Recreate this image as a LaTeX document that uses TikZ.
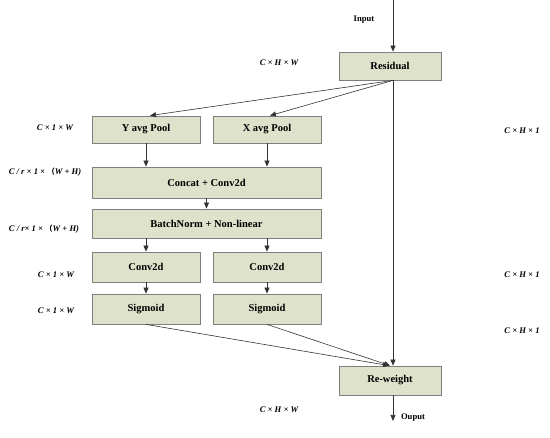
\documentclass[tikz,border=0pt]{standalone}
\usepackage{fontspec}
\setmainfont{Liberation Serif}
\newfontfamily\cjkfont{Noto Sans CJK SC}
\usetikzlibrary{arrows.meta}
\definecolor{boxfill}{HTML}{DFE2CB}
\definecolor{boxline}{HTML}{7F7F7F}
\tikzset{
  blk/.style={draw=boxline, fill=boxfill, line width=0.8pt, minimum height=28pt, inner sep=0pt, font=\bfseries\fontsize{10.5}{12}\selectfont},
  dimlbl/.style={font=\bfseries\itshape\fontsize{8.6}{10}\selectfont, inner sep=0pt},
  plainlbl/.style={font=\bfseries\fontsize{8.6}{10}\selectfont, inner sep=0pt},
  conn/.style={draw=black!80, line width=0.6pt, -{Triangle[length=6pt,width=5pt]}},
  flow/.style={draw=black!75, line width=0.6pt}
}
\begin{document}
\begin{tikzpicture}[x=1pt,y=-1pt]
\useasboundingbox (0,0) rectangle (550,438);
% boxes
\node[blk, minimum width=102pt, minimum height=28pt] (res) at (390,66) {Residual};
\node[blk, minimum width=108pt, minimum height=27pt] (ypool) at (146,129.5) {Y avg Pool};
\node[blk, minimum width=108pt, minimum height=27pt] (xpool) at (267,129.5) {X avg Pool};
\node[blk, minimum width=229pt, minimum height=31pt] (cat) at (206.5,182.5) {Concat + Conv2d};
\node[blk, minimum width=229pt, minimum height=29pt] (bn) at (206.5,223.5) {BatchNorm + Non-linear};
\node[blk, minimum width=108pt, minimum height=30pt] (cl) at (146,267) {Conv2d};
\node[blk, minimum width=108pt, minimum height=30pt] (cr) at (267,267) {Conv2d};
\node[blk, minimum width=108pt, minimum height=30pt] (sl) at (146,309) {Sigmoid};
\node[blk, minimum width=108pt, minimum height=30pt] (sr) at (267,309) {Sigmoid};
\node[blk, minimum width=102pt, minimum height=29pt] (rw) at (390,380.5) {Re-weight};
% coordinates
\coordinate (top) at (393,0);
\coordinate (out) at (393,421);
% main line
\draw[conn] (top) -- (res.north -| top);
\draw[conn] (res.south -| top) -- (rw.north -| top);
\draw[conn] (rw.south -| top) -- (out);
% residual to pools
\draw[conn] (res.south -| top) -- ([xshift=4pt]ypool.north);
\draw[conn] (res.south -| top) -- ([xshift=3pt]xpool.north);
\draw[conn] (ypool.south) -- (ypool.south |- cat.north);
\draw[conn] (xpool.south) -- (xpool.south |- cat.north);
\draw[conn] (cat.south) -- (bn.north);
\draw[conn] (bn.south -| cl) -- (cl.north);
\draw[conn] (bn.south -| cr) -- (cr.north);
\draw[conn] (cl.south) -- (sl.north);
\draw[conn] (cr.south) -- (sr.north);
\draw[conn] (sl.south) -- ([xshift=-4pt]rw.north -| top);
\draw[conn] (sr.south) -- ([xshift=-3pt]rw.north -| top);
% labels
\node[plainlbl] (lin) at (364,20) {Input};
\node[plainlbl] (lout) at (413,418) {Ouput};
\node[dimlbl] (d1) at (279,63) {C × H × W};
\node[dimlbl] (d2) at (279,410) {C × H × W};
\node[dimlbl] (d3) at (55,128) {C × 1 × W};
\node[dimlbl] (d4) at (45,172) {C / r × 1 × {\upshape\cjkfont\fontsize{7.5}{9}\selectfont（}W + H)};
\node[dimlbl] (d5) at (44,229) {C / r× 1 × {\upshape\cjkfont\fontsize{7.5}{9}\selectfont（}W + H)};
\node[dimlbl] (d6) at (56,275) {C × 1 × W};
\node[dimlbl] (d7) at (56,311) {C × 1 × W};
\node[dimlbl] (d8) at (522,131) {C × H × 1};
\node[dimlbl] (d9) at (522,275) {C × H × 1};
\node[dimlbl] (d10) at (522,331) {C × H × 1};
\end{tikzpicture}
\end{document}
